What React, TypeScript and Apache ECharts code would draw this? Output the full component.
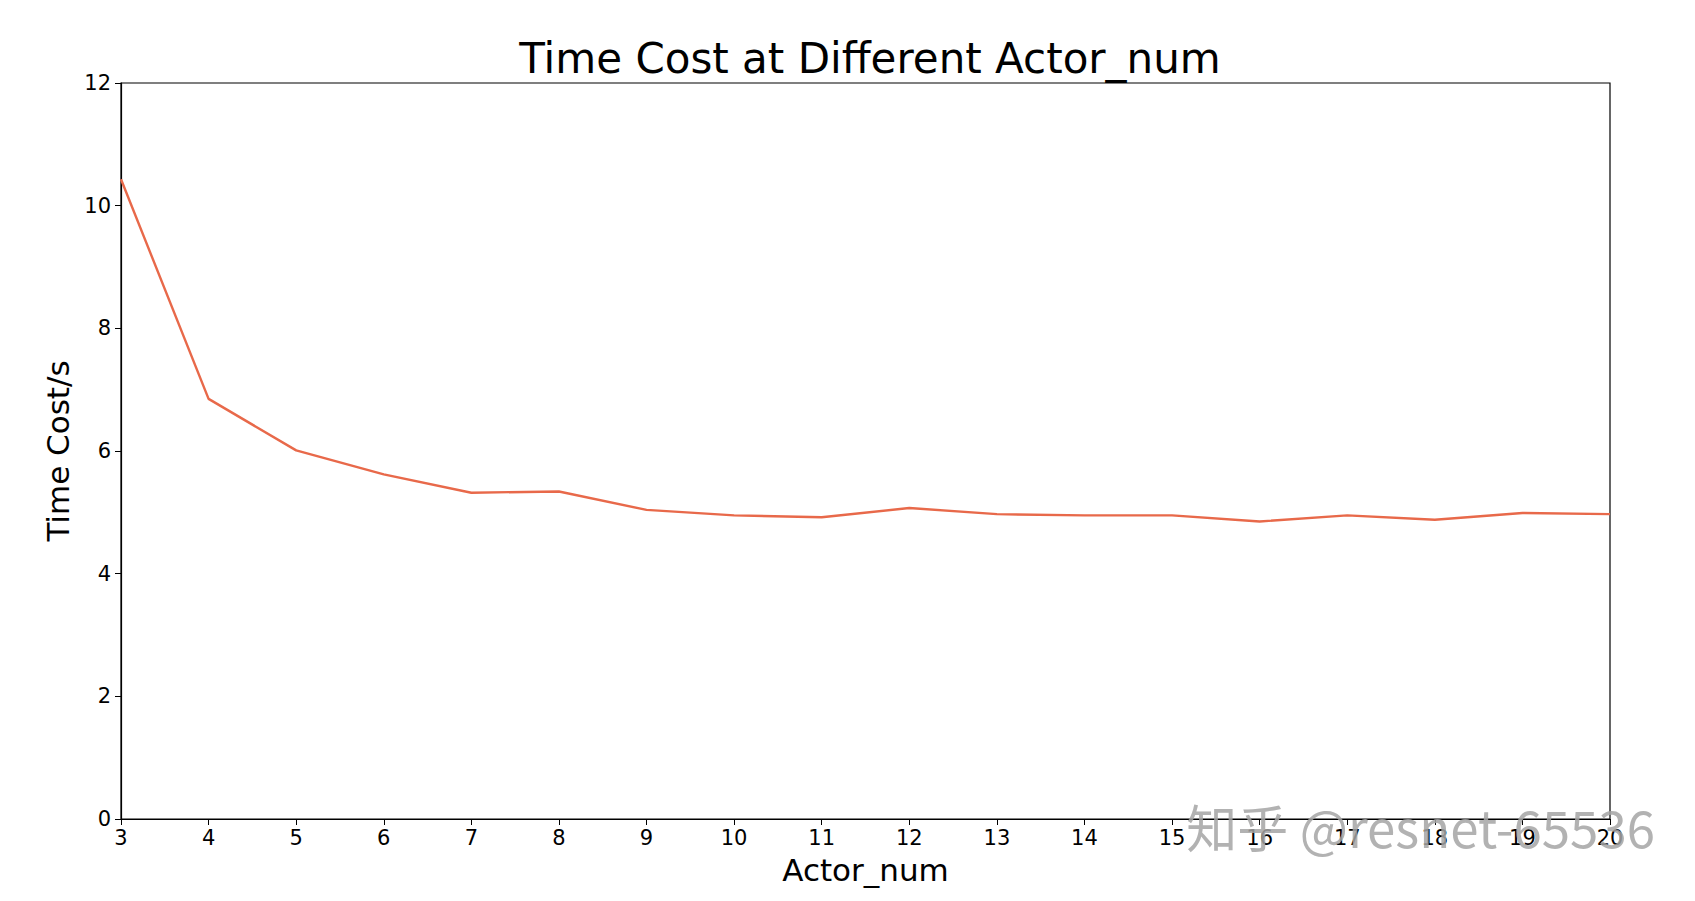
import React, { useEffect, useRef } from "react";
import * as echarts from "echarts";

const actorNums = [3, 4, 5, 6, 7, 8, 9, 10, 11, 12, 13, 14, 15, 16, 17, 18, 19, 20];
const timeCost = [10.43, 6.85, 6.01, 5.62, 5.32, 5.34, 5.04, 4.95, 4.92, 5.07, 4.97, 4.95, 4.95, 4.85, 4.95, 4.88, 4.99, 4.97];
const titleText = "Time Cost at Different Actor_num";
const xName = "Actor_num";
const yName = "Time Cost/s";
const watermark = "知乎 @resnet-65536";

export default function App() {
  const ref = useRef<HTMLDivElement>(null);
  useEffect(() => {
    if (!ref.current) return;
    const chart = echarts.init(ref.current, undefined, { renderer: "svg" });
    const font = "DejaVu Sans";
    chart.setOption({
      animation: false,
      backgroundColor: "#ffffff",
      title: {
        text: titleText,
        left: 865,
        textAlign: "center",
        top: 32,
        textStyle: { fontFamily: font, fontSize: 42, fontWeight: "normal", color: "#000" },
      },
      grid: {
        left: 121,
        right: 85,
        top: 83,
        bottom: 82,
        show: true,
        borderColor: "#000",
        borderWidth: 1.2,
        backgroundColor: "transparent",
      },
      xAxis: {
        type: "value",
        min: 3,
        max: 20,
        interval: 1,
        name: xName,
        nameLocation: "middle",
        nameGap: 35,
        nameTextStyle: { fontFamily: font, fontSize: 31, color: "#000" },
        axisLine: { show: true, lineStyle: { color: "#000", width: 1.2 } },
        axisTick: { show: true, length: 6, lineStyle: { color: "#000" } },
        axisLabel: { fontFamily: font, fontSize: 21, color: "#000", margin: 8 },
        splitLine: { show: false },
      },
      yAxis: {
        type: "value",
        min: 0,
        max: 12,
        interval: 2,
        name: yName,
        nameLocation: "middle",
        nameGap: 48,
        nameRotate: 90,
        nameTextStyle: { fontFamily: font, fontSize: 31, color: "#000" },
        axisLine: { show: true, lineStyle: { color: "#000", width: 1.2 } },
        axisTick: { show: true, length: 6, lineStyle: { color: "#000" } },
        axisLabel: { fontFamily: font, fontSize: 21, color: "#000", margin: 10 },
        splitLine: { show: false },
      },
      series: [
        {
          type: "line",
          data: actorNums.map((x, i) => [x, timeCost[i]]),
          showSymbol: false,
          symbol: "none",
          lineStyle: { color: "#e8694a", width: 2.4 },
          clip: false,
        },
      ],
      graphic: [
        {
          type: "text",
          right: 40,
          top: 800,
          z: 100,
          style: {
            text: watermark,
            fontFamily: "Noto Sans CJK SC",
            fontSize: 51,
            fill: "rgba(165,165,165,0.85)",
            shadowColor: "rgba(90,90,90,0.6)",
            shadowOffsetX: 2,
            shadowOffsetY: 2,
            shadowBlur: 1,
          },
        },
      ],
    });
    return () => chart.dispose();
  }, []);
  return <div ref={ref} style={{ position: "fixed", left: 0, top: 0, width: 1695, height: 901 }} />;
}
